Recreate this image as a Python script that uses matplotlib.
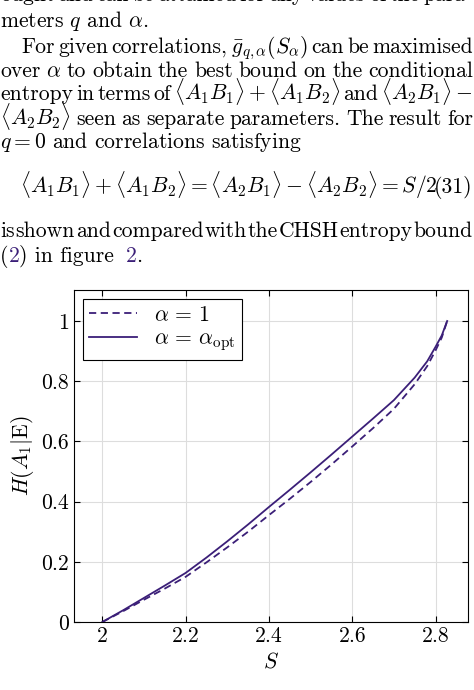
import matplotlib
matplotlib.use("Agg")
import matplotlib.pyplot as plt

plt.rcParams['font.family'] = 'cmr10'
plt.rcParams['mathtext.fontset'] = 'cm'
plt.rcParams['axes.formatter.use_mathtext'] = True

S_vals = [2.0, 2.05, 2.1, 2.15, 2.2, 2.25, 2.3, 2.35, 2.4, 2.45, 2.5, 2.55, 2.6, 2.65, 2.7, 2.75, 2.78, 2.8, 2.815, 2.828]
H_alpha1 = [0.0, 0.036, 0.074, 0.111, 0.150, 0.198, 0.248, 0.300, 0.355, 0.409, 0.465, 0.523, 0.583, 0.644, 0.708, 0.790, 0.850, 0.902, 0.945, 1.0]
H_opt = [0.0, 0.039, 0.080, 0.121, 0.163, 0.214, 0.268, 0.324, 0.382, 0.439, 0.497, 0.556, 0.616, 0.676, 0.737, 0.812, 0.866, 0.914, 0.952, 1.0]
xticks = [2, 2.2, 2.4, 2.6, 2.8]
yticks = [0, 0.2, 0.4, 0.6, 0.8, 1]

W, H = 474, 690
fig = plt.figure(figsize=(W/100, H/100), dpi=100)
FS = 15.6
purple = '#3b1f78'

lines = [
    (1, "ought and can be attained for any values of the para-", True, 0),
    (27, "meters $q$ and $\\alpha$.", False, 0),
    (53, "For given correlations, $\\bar{g}_{q,\\alpha}(S_\\alpha)$ can be maximised", True, 21),
    (77, "over $\\alpha$ to obtain the best bound on the conditional", True, 0),
    (100, "entropy in terms of $\\langle A_1B_1\\rangle+\\langle A_1B_2\\rangle$ and $\\langle A_2B_1\\rangle-$", True, 0),
    (125, "$\\langle A_2B_2\\rangle$ seen as separate parameters.  The result for", True, 0),
    (148, "$q=0$ and correlations satisfying", False, 0),
    (237, "is shown and compared with the CHSH entropy bound", True, 0),
]

fig.canvas.draw()
r = fig.canvas.get_renderer()

def words_of(s):
    out, cur, inm = [], '', False
    for ch in s:
        if ch == '$':
            inm = not inm
        if ch == ' ' and not inm:
            if cur:
                out.append(cur)
            cur = ''
        else:
            cur += ch
    if cur:
        out.append(cur)
    return out

for yb, s, just, indent in lines:
    yf = 1 - yb/H
    ws = words_of(s)
    if not just:
        fig.text(indent/W, yf, s, fontsize=FS, va='baseline')
        continue
    ts = [fig.text(0, yf, w, fontsize=FS, va='baseline') for w in ws]
    widths = [t.get_window_extent(r).width for t in ts]
    x0, x1 = indent, 473
    gap = (x1 - x0 - sum(widths)) / max(len(ws)-1, 1)
    x = x0
    for t, w in zip(ts, widths):
        t.set_x(x/W)
        x += w + gap

# last line with coloured references
x = 0
for piece, col in [("(", 'black'), ("2", purple), (") in figure ", 'black'), ("2", purple), (".", 'black')]:
    t = fig.text(x/W, 1-262/H, piece, fontsize=FS, va='baseline', color=col)
    x += t.get_window_extent(r).width
    if piece.endswith(' '):
        x += 4

fig.text(20/W, 1-193/H, "$\\langle A_1B_1\\rangle+\\langle A_1B_2\\rangle=\\langle A_2B_1\\rangle-\\langle A_2B_2\\rangle=S/2$",
         fontsize=FS, va='baseline')
fig.text(473/W, 1-193/H, "(31)", fontsize=FS, va='baseline', ha='right')

ax = fig.add_axes([74/W, 1-622/H, (468-74)/W, (622-290)/H])
ax.plot(S_vals, H_alpha1, '--', color=purple, lw=1.3, dashes=(4, 2.5), label=r'$\alpha\,=\,1$')
ax.plot(S_vals, H_opt, '-', color=purple, lw=1.3, label=r'$\alpha\,=\,\alpha_{\rm opt}$')
ax.set_xlim(1.932, 2.878)
ax.set_ylim(0, 1.103)
ax.set_xticks(xticks)
ax.set_xticklabels([f"{v:g}" for v in xticks])
ax.set_yticks(yticks)
ax.set_yticklabels([f"{v:g}" for v in yticks])
ax.tick_params(labelsize=FS, direction='in', top=True, right=True, length=4)
ax.grid(True, color='#dddddd', lw=0.8)
ax.set_axisbelow(True)
ax.set_xlabel('$S$', fontsize=FS)
ax.set_ylabel(r'$H(A_1|\mathrm{E})$', fontsize=FS)
leg = ax.legend(loc='upper left', fontsize=FS, fancybox=False, edgecolor='black',
                framealpha=1, handlelength=2.2, borderaxespad=0.4, borderpad=0.3, labelspacing=0.2)
leg.get_frame().set_linewidth(0.8)
fig.savefig('out.png', dpi=100)
